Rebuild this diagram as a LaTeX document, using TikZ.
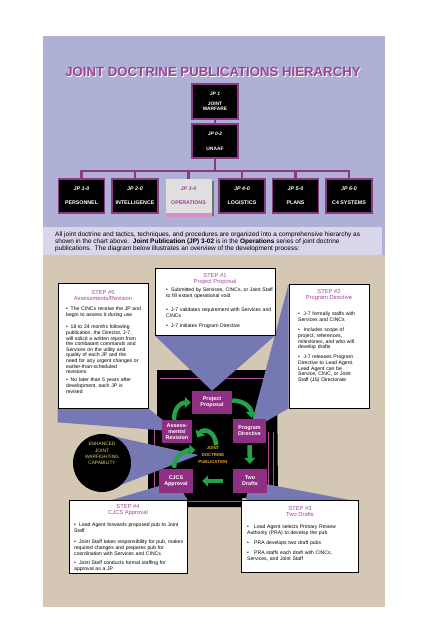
\documentclass[tikz,border=0pt]{standalone}
\usepackage{fontspec}
\setmainfont{Liberation Sans}
\usetikzlibrary{arrows.meta,shadows}
\definecolor{purplebg}{HTML}{AEB0D6}
\definecolor{lavbox}{HTML}{D9D6EA}
\definecolor{tanbg}{HTML}{D4C8B4}
\definecolor{beam}{HTML}{7678B3}
\definecolor{magbox}{HTML}{8F2F82}
\definecolor{hborder}{HTML}{8B3A85}
\definecolor{titlecol}{HTML}{9B4593}
\definecolor{steptitle}{HTML}{A3469B}
\definecolor{greenarr}{HTML}{22A24A}
\definecolor{gold}{HTML}{E6A33E}
\definecolor{yel}{HTML}{D9D86A}
\definecolor{pinkl}{HTML}{B24C98}
\definecolor{pinksh}{HTML}{D690C6}
\definecolor{opfill}{HTML}{E0E0E0}
\pgfdeclarelayer{bgl}
\pgfdeclarelayer{blk}
\pgfdeclarelayer{beaml}
\pgfsetlayers{bgl,blk,beaml,main}
\newcommand\bitem[1][5pt]{\hangindent=#1\hangafter=1\noindent\hbox to #1{\textbullet\hfil}}
\newcommand\nl{\hfil\break}
\begin{document}
\begin{tikzpicture}[x=1pt,y=-1pt,
  hbox/.style={draw=hborder, line width=1.8pt, fill=black, text=white, minimum width=46pt, minimum height=34pt, inner sep=0pt, align=center, font=\bfseries\fontsize{5.3}{6}\selectfont},
  hline/.style={draw=hborder, line width=2.2pt},
  stepbox/.style={draw=black, line width=0.7pt, fill=white, inner sep=0pt, drop shadow={shadow xshift=1.2pt, shadow yshift=-1.2pt, fill=black!75, opacity=1}},
  stitle/.style={text=steptitle, align=center, inner sep=0pt, font=\fontsize{5.8}{6}\selectfont},
  bul/.style={anchor=north west, inner sep=0pt, text width=140pt, align=left, font=\fontsize{5.1}{5.6}\selectfont},
  cbox/.style={fill=magbox, text=white, align=center, inner sep=0pt, font=\bfseries\fontsize{5.4}{6}\selectfont},
  garrow/.style={draw=greenarr, line width=4.5pt, -{Triangle[length=6pt,width=11pt]}},
  beamf/.style={fill=beam}
]
\useasboundingbox (0,0) rectangle (427,640);
\begin{pgfonlayer}{bgl}
\fill[white] (0,0) rectangle (427,640);
\fill[purplebg] (43,36) rectangle (385,255);
\fill[tanbg] (43,255) rectangle (385,607);
\fill[lavbox] (43,227) rectangle (382,255);
\end{pgfonlayer}

% title
\node[text=white, font=\bfseries\fontsize{13.2}{14}\selectfont] (titlesh) at (213.8,72.8) {JOINT DOCTRINE PUBLICATIONS HIERARCHY};
\node[text=titlecol, font=\bfseries\fontsize{13.2}{14}\selectfont] (title) at (213,72) {JOINT DOCTRINE PUBLICATIONS HIERARCHY};

% hierarchy
\node[hbox, minimum height=35pt, font=\bfseries\fontsize{4.9}{5.8}\selectfont] (jp1) at (215,101.5) {\textit{JP 1}\\[4pt]JOINT\\WARFARE};
\node[hbox, font=\bfseries\fontsize{4.9}{5.8}\selectfont] (jp02) at (215,141) {\textit{JP 0-2}\\[9.5pt]UNAAF};
\node[hbox] (b1) at (81.5,196) {\textit{JP 1-0}\\[8pt]PERSONNEL};
\node[hbox] (b2) at (135,196) {\textit{JP 2-0}\\[8pt]INTELLIGENCE};
\node[fill=opfill, text=titlecol, minimum width=46pt, minimum height=34pt, inner sep=0pt, align=center, font=\bfseries\fontsize{5.3}{6}\selectfont] (b3) at (188.5,196) {\textit{JP 3-0}\\[8pt]OPERATIONS};
\node[hbox] (b4) at (242,196) {\textit{JP 4-0}\\[8pt]LOGISTICS};
\node[hbox] (b5) at (295.5,196) {\textit{JP 5-0}\\[8pt]PLANS};
\node[hbox] (b6) at (349,196) {\textit{JP 6-0}\\[8pt]C4 SYSTEMS};
\coordinate (bus) at (215,171);
\begin{pgfonlayer}{beaml}
\draw[hline] (jp1.south) -- (jp02.north);
\draw[hline] (jp02.south) -- (bus);
\draw[hline] (b1.north) |- (bus) -| (b6.north);
\foreach \b in {b2,b3,b4,b5} { \draw[hline] (\b.north) -- (\b.north |- bus); }
\fill[pinksh] ([xshift=1pt,yshift=-4pt]b3.south west) rectangle ([xshift=2pt]b3.south east);
\fill[black!55] ([yshift=-2pt]b3.north east) rectangle ([xshift=2pt,yshift=-3pt]b3.south east);
\end{pgfonlayer}

% paragraph
\node[anchor=north west, inner sep=0pt, align=left, font=\fontsize{6.5}{7}\selectfont] (para) at (55,231.2) {All joint doctrine and tactics, techniques, and procedures are organized into a comprehensive hierarchy as\\shown in the chart above.\ \ \textbf{Joint Publication (JP) 3-02} is in the \textbf{Operations} series of joint doctrine\\publications.\ \ The diagram below illustrates an overview of the development process:};

% step boxes
\node[stepbox, minimum width=120pt, minimum height=67pt] (s1) at (215,301.5) {};
\node[stepbox, minimum width=90pt, minimum height=125pt] (s5) at (103,345.5) {};
\node[stepbox, minimum width=80pt, minimum height=124pt] (s2) at (329,346) {};
\node[stepbox, minimum width=118pt, minimum height=73pt] (s4) at (128,536.5) {};
\node[stepbox, minimum width=117pt, minimum height=72pt] (s3) at (299.5,536) {};

\node[stitle] (s1t) at (215,279) {STEP \#1\\Project Proposal};
\node[bul] (s1a) at (166,288) {\bitem[5pt]Submitted by Services, CINCs, or Joint Staff\nl to fill extant operational void};
\node[bul] (s1b) at (166,308) {\bitem[5pt]J-7 validates requirement with Services and\nl CINCs};
\node[bul] (s1c) at (166,324) {\bitem[5pt]J-7 initiates Program Directive};

\node[stitle] (s5t) at (103,295) {STEP \#5\\Assessments/Revision};
\node[bul] (s5a) at (66,307) {\bitem[4.5pt]The CINCs receive the JP and\nl begin to assess it during use};
\node[bul] (s5b) at (66,325) {\bitem[4.5pt]18 to 24 months following\nl publication, the Director, J-7,\nl will solicit a written report from\nl the combatant commands and\nl Services on the utility and\nl quality of each JP and the\nl need for any urgent changes or\nl earlier-than-scheduled\nl revisions};
\node[bul] (s5c) at (66,378) {\bitem[4.5pt]No later than 5 years after\nl development, each JP is\nl revised};

\node[stitle] (s2t) at (329,295) {STEP \#2\\Program Directive};
\node[bul] (s2a) at (298,312) {\bitem[5.5pt]J-7 formally staffs with\nl Services and CINCs};
\node[bul] (s2b) at (298,328) {\bitem[5.5pt]Includes scope of\nl project, references,\nl milestones, and who will\nl develop drafts};
\node[bul] (s2c) at (298,355) {\bitem[5.5pt]J-7 releases Program\nl Directive to Lead Agent.\nl Lead Agent can be\nl Service, CINC, or Joint\nl Staff (JS) Directorate};

\node[stitle] (s4t) at (128,510) {STEP \#4\\CJCS Approval};
\node[bul] (s4a) at (74,523) {\bitem[5pt]Lead Agent forwards proposed pub to Joint\nl Staff};
\node[bul] (s4b) at (74,540) {\bitem[5pt]Joint Staff takes responsibility for pub, makes\nl required changes and prepares pub for\nl coordination with Services and CINCs};
\node[bul] (s4c) at (74,561) {\bitem[5pt]Joint Staff conducts formal staffing for\nl approval as a JP};

\node[stitle] (s3t) at (300,511) {STEP \#3\\Two Drafts};
\node[bul] (s3a) at (247,525) {\bitem[7pt]Lead Agent selects Primary Review\nl Authority (PRA) to develop the pub};
\node[bul] (s3b) at (247,541) {\bitem[7pt]PRA develops two draft pubs};
\node[bul] (s3c) at (247,551) {\bitem[7pt]PRA staffs each draft with CINCs,\nl Services, and Joint Staff};

% center boxes
\node[cbox, minimum width=40pt, minimum height=23pt] (pp) at (212,402.5) {Project\\Proposal};
\node[cbox, minimum width=30pt, minimum height=23pt] (ar) at (177,431.5) {Assess-\\ments/\\Revision};
\node[cbox, minimum width=33pt, minimum height=24pt] (pd) at (249.5,431) {Program\\Directive};
\node[cbox, minimum width=34pt, minimum height=24pt] (cj) at (176,481) {CJCS\\Approval};
\node[cbox, minimum width=34pt, minimum height=24pt] (td) at (250,481) {Two\\Drafts};
\node[text=gold, align=center, inner sep=0pt, font=\bfseries\fontsize{4.3}{7}\selectfont] (jd) at (213,455) {JOINT\\DOCTRINE\\PUBLICATION};

% circle
\node[circle, fill=black, minimum size=58pt, inner sep=0pt] (circ) at (102,463) {};
\node[text=yel, align=center, inner sep=0pt, font=\fontsize{4.8}{6.3}\selectfont] (ctext) at (102,453.5) {ENHANCED\\JOINT\\WARFIGHTING\\CAPABILITY};

% black structure
\begin{pgfonlayer}{blk}
\fill[black] (157,370) -- (277,370) -- (278,498) -- (242,498) -- (242,507) -- (187,507) -- (187,498) -- (148,498) -- (148,428) -- (157,428) -- cycle;
\draw[pinkl, line width=0.9pt] (160,378) -- (274,378);
\draw[pinkl, line width=0.9pt] (154,430) -- (154,498);
\draw[pinkl, line width=0.9pt] (268,432) -- (268,498);
\draw[pinkl, line width=0.9pt] (273,432) -- (273,498);
\draw[pinkl, line width=0.9pt] (187,501) -- (242,501);
\end{pgfonlayer}

% beams
\begin{pgfonlayer}{beaml}
\fill[beamf] (s1.south west) -- (s1.south east) -- (pp.north) -- cycle;
\fill[beamf] (s2.north west) -- (s2.south west) -- (pd.center) -- cycle;
\fill[beamf] (s5.south west) -- (s5.south east) -- (ar.center) -- ([yshift=-14pt]s5.south west) -- cycle;
\fill[beamf] (circ.north) -- (circ.south) -- (jd.west) -- cycle;
\fill[beamf] ([yshift=-13pt]s4.north west) -- (s4.north east) -- (cj.center) -- cycle;
\fill[beamf] ([xshift=4pt,yshift=-5pt]s3.north west) -- ([yshift=-2pt]s3.north east) -- (td.center) -- cycle;
\end{pgfonlayer}

% green arrows
\draw[garrow] ([xshift=-3pt]ar.north) .. controls +(0,-14) and +(-8,0) .. ([xshift=-1pt]pp.west);
\draw[garrow] ([yshift=2pt]pp.east) .. controls +(13,0) and +(0,-9) .. ([xshift=2pt,yshift=1pt]pd.north);
\draw[garrow, shorten <=2pt, shorten >=5pt] (pd.south) -- (td.north);
\draw[garrow, shorten <=10pt, shorten >=9pt] (td.west) -- (cj.east);
\draw[garrow] ([xshift=-2pt,yshift=1pt]cj.north) .. controls +(0,-13) and +(-8,0) .. ([xshift=-3pt,yshift=5pt]jd.west);
\draw[garrow] ([xshift=3pt,yshift=1pt]jd.north) .. controls +(0,-14) and +(6,-10) .. ([xshift=5pt,yshift=-6pt]ar.east);
\end{tikzpicture}
\end{document}
